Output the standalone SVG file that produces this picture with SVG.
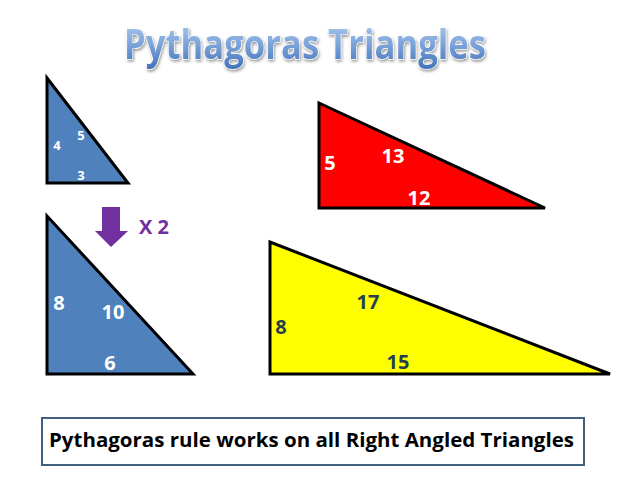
<svg xmlns="http://www.w3.org/2000/svg" width="638" height="478" viewBox="0 0 638 478">
<defs>
<linearGradient id="tg" x1="0" y1="0" x2="0" y2="1">
<stop offset="0" stop-color="#b9d3f2"/>
<stop offset="0.5" stop-color="#7fa6dc"/>
<stop offset="1" stop-color="#3f6fb6"/>
</linearGradient>
<filter id="sh" x="-10%" y="-30%" width="120%" height="160%">
<feGaussianBlur in="SourceAlpha" stdDeviation="1.5"/>
<feOffset dx="1" dy="2" result="b"/>
<feComponentTransfer><feFuncA type="linear" slope="0.4"/></feComponentTransfer>
<feMerge><feMergeNode/><feMergeNode in="SourceGraphic"/></feMerge>
</filter>
</defs>
<style>
.tri{stroke:#000;stroke-width:3;stroke-linejoin:miter}
.lbl{font-family:"Open Sans","Liberation Sans",Arial,sans-serif;font-weight:bold;text-anchor:middle}
.w{fill:#fff}
.d{fill:#243f4f}
</style>
<rect width="638" height="478" fill="#fff"/>
<g id="title" filter="url(#sh)">
<text x="305" y="59" font-family="Open Sans,Liberation Sans,sans-serif" font-weight="bold" font-size="41" text-anchor="middle" fill="url(#tg)" stroke="#fff" stroke-width="1.2" paint-order="stroke" textLength="362" lengthAdjust="spacingAndGlyphs">Pythagoras Triangles</text>
</g>
<g id="tri-small">
<polygon class="tri" points="47,78 47,183 128,183" fill="#4f81bd"/>
<text class="lbl w" x="57" y="150" font-size="13">4</text>
<text class="lbl w" x="81" y="140" font-size="13">5</text>
<text class="lbl w" x="81" y="180" font-size="13">3</text>
</g>
<g id="tri-blue">
<polygon class="tri" points="47,216 47,374 193,374" fill="#4f81bd"/>
<text class="lbl w" x="59" y="310" font-size="20">8</text>
<text class="lbl w" x="113" y="319" font-size="20">10</text>
<text class="lbl w" x="110" y="370" font-size="20">6</text>
</g>
<g id="arrow">
<polygon points="102,207 120,207 120,231 128,231 111,247 95,231 102,231" fill="#7030a0"/>
<text class="lbl" x="154" y="234" font-size="20" fill="#7030a0">X 2</text>
</g>
<g id="tri-red">
<polygon class="tri" points="319,103 319,208 545,208" fill="#ff0000"/>
<text class="lbl w" x="330" y="170" font-size="20">5</text>
<text class="lbl w" x="393" y="163" font-size="20">13</text>
<text class="lbl w" x="419" y="205" font-size="20">12</text>
</g>
<g id="tri-yellow">
<polygon class="tri" points="270,242 270,374 610,374" fill="#ffff00"/>
<text class="lbl d" x="281" y="334" font-size="20">8</text>
<text class="lbl d" x="368" y="309" font-size="20">17</text>
<text class="lbl d" x="398" y="369" font-size="20">15</text>
</g>
<g id="caption">
<rect x="42" y="418" width="542" height="47" fill="#fff" stroke="#41607f" stroke-width="2"/>
<text x="49" y="447" font-family="Open Sans,Liberation Sans,Arial,sans-serif" font-weight="bold" font-size="20" fill="#000" textLength="525" lengthAdjust="spacingAndGlyphs">Pythagoras rule works on all Right Angled Triangles</text>
</g>
<g id="connectors"/>
</svg>
